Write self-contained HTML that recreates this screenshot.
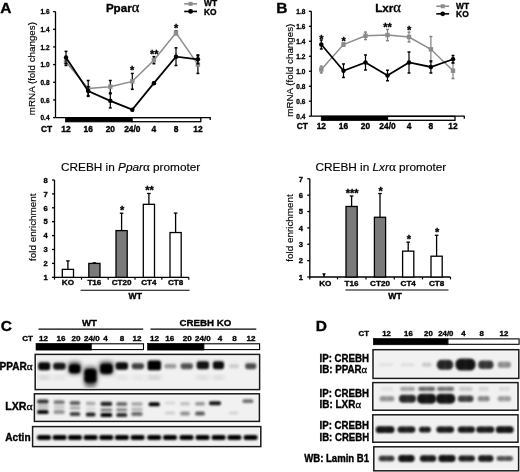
<!DOCTYPE html>
<html><head><meta charset="utf-8"><style>
html,body{margin:0;padding:0;background:#fff;width:520px;height:472px;overflow:hidden;}
svg{display:block;font-family:'Liberation Sans', Arial, sans-serif;}
</style></head><body>
<svg width="520" height="472" viewBox="0 0 520 472">
<defs>
<filter id="b1" x="-50%" y="-50%" width="200%" height="200%"><feGaussianBlur stdDeviation="1.2 1.0"/></filter>
<filter id="b2" x="-50%" y="-50%" width="200%" height="200%"><feGaussianBlur stdDeviation="2"/></filter>
<filter id="b3" x="-50%" y="-50%" width="200%" height="200%"><feGaussianBlur stdDeviation="1.3 1.0"/></filter>
</defs>
<text x="0.30" y="13.00" font-size="15.5" text-anchor="start" style="font-weight:bold;" fill="#000" stroke="#000" stroke-width="0.35" >A</text>
<text x="276.20" y="13.00" font-size="15.5" text-anchor="start" style="font-weight:bold;" fill="#000" stroke="#000" stroke-width="0.35" >B</text>
<text x="0.80" y="331.00" font-size="15.5" text-anchor="start" style="font-weight:bold;" fill="#000" stroke="#000" stroke-width="0.35" >C</text>
<text x="315.80" y="331.00" font-size="15.5" text-anchor="start" style="font-weight:bold;" fill="#000" stroke="#000" stroke-width="0.35" >D</text>
<line x1="55.50" y1="11.60" x2="55.50" y2="117.60" stroke="#000" stroke-width="1.3"/>
<line x1="53.10" y1="117.60" x2="55.50" y2="117.60" stroke="#000" stroke-width="1.3"/>
<text x="49.50" y="120.00" font-size="8.0" text-anchor="end" style="font-weight:bold;" fill="#000" stroke="#000" stroke-width="0.35"  textLength="9.00" lengthAdjust="spacingAndGlyphs">0.4</text>
<line x1="53.10" y1="99.93" x2="55.50" y2="99.93" stroke="#000" stroke-width="1.3"/>
<text x="49.50" y="103.00" font-size="8.0" text-anchor="end" style="font-weight:bold;" fill="#000" stroke="#000" stroke-width="0.35"  textLength="9.00" lengthAdjust="spacingAndGlyphs">0.6</text>
<line x1="53.10" y1="82.27" x2="55.50" y2="82.27" stroke="#000" stroke-width="1.3"/>
<text x="49.50" y="85.00" font-size="8.0" text-anchor="end" style="font-weight:bold;" fill="#000" stroke="#000" stroke-width="0.35"  textLength="9.00" lengthAdjust="spacingAndGlyphs">0.8</text>
<line x1="53.10" y1="64.60" x2="55.50" y2="64.60" stroke="#000" stroke-width="1.3"/>
<text x="49.50" y="67.00" font-size="8.0" text-anchor="end" style="font-weight:bold;" fill="#000" stroke="#000" stroke-width="0.35"  textLength="9.00" lengthAdjust="spacingAndGlyphs">1.0</text>
<line x1="53.10" y1="46.93" x2="55.50" y2="46.93" stroke="#000" stroke-width="1.3"/>
<text x="49.50" y="50.00" font-size="8.0" text-anchor="end" style="font-weight:bold;" fill="#000" stroke="#000" stroke-width="0.35"  textLength="9.00" lengthAdjust="spacingAndGlyphs">1.2</text>
<line x1="53.10" y1="29.27" x2="55.50" y2="29.27" stroke="#000" stroke-width="1.3"/>
<text x="49.50" y="32.00" font-size="8.0" text-anchor="end" style="font-weight:bold;" fill="#000" stroke="#000" stroke-width="0.35"  textLength="9.00" lengthAdjust="spacingAndGlyphs">1.4</text>
<line x1="53.10" y1="11.60" x2="55.50" y2="11.60" stroke="#000" stroke-width="1.3"/>
<text x="49.50" y="14.00" font-size="8.0" text-anchor="end" style="font-weight:bold;" fill="#000" stroke="#000" stroke-width="0.35"  textLength="9.00" lengthAdjust="spacingAndGlyphs">1.6</text>
<line x1="55.50" y1="117.60" x2="210.20" y2="117.60" stroke="#000" stroke-width="1.3"/>
<line x1="210.20" y1="117.10" x2="210.20" y2="120.10" stroke="#000" stroke-width="1.3"/>
<rect x="65.60" y="117.60" width="66.50" height="4.30" fill="#000" stroke="#000" stroke-width="0.8" />
<rect x="132.10" y="117.80" width="68.70" height="3.90" fill="#fff" stroke="#000" stroke-width="1.3" />
<text x="41.00" y="132.00" font-size="8.4" text-anchor="start" style="font-weight:bold;" fill="#000" stroke="#000" stroke-width="0.35" >CT</text>
<text x="66.00" y="132.00" font-size="8.4" text-anchor="middle" style="font-weight:bold;" fill="#000" stroke="#000" stroke-width="0.35" >12</text>
<text x="88.20" y="132.00" font-size="8.4" text-anchor="middle" style="font-weight:bold;" fill="#000" stroke="#000" stroke-width="0.35" >16</text>
<text x="110.30" y="132.00" font-size="8.4" text-anchor="middle" style="font-weight:bold;" fill="#000" stroke="#000" stroke-width="0.35" >20</text>
<text x="132.30" y="132.00" font-size="8.4" text-anchor="middle" style="font-weight:bold;" fill="#000" stroke="#000" stroke-width="0.35" >24/0</text>
<text x="153.90" y="132.00" font-size="8.4" text-anchor="middle" style="font-weight:bold;" fill="#000" stroke="#000" stroke-width="0.35" >4</text>
<text x="176.00" y="132.00" font-size="8.4" text-anchor="middle" style="font-weight:bold;" fill="#000" stroke="#000" stroke-width="0.35" >8</text>
<text x="197.90" y="132.00" font-size="8.4" text-anchor="middle" style="font-weight:bold;" fill="#000" stroke="#000" stroke-width="0.35" >12</text>
<polyline points="66.00,61.95 88.20,88.45 110.30,86.68 132.30,81.38 153.90,60.18 176.00,32.80 197.90,64.60" fill="none" stroke="#8c8c8c" stroke-width="1.45"/>
<line x1="66.00" y1="58.42" x2="66.00" y2="65.48" stroke="#000" stroke-width="1.2"/>
<line x1="64.55" y1="58.42" x2="67.45" y2="58.42" stroke="#000" stroke-width="1.5"/>
<line x1="64.55" y1="65.48" x2="67.45" y2="65.48" stroke="#000" stroke-width="1.5"/>
<line x1="88.20" y1="80.50" x2="88.20" y2="96.40" stroke="#000" stroke-width="1.2"/>
<line x1="86.75" y1="80.50" x2="89.65" y2="80.50" stroke="#000" stroke-width="1.5"/>
<line x1="86.75" y1="96.40" x2="89.65" y2="96.40" stroke="#000" stroke-width="1.5"/>
<line x1="110.30" y1="80.50" x2="110.30" y2="92.87" stroke="#000" stroke-width="1.2"/>
<line x1="108.85" y1="80.50" x2="111.75" y2="80.50" stroke="#000" stroke-width="1.5"/>
<line x1="108.85" y1="92.87" x2="111.75" y2="92.87" stroke="#000" stroke-width="1.5"/>
<line x1="132.30" y1="73.43" x2="132.30" y2="89.33" stroke="#000" stroke-width="1.2"/>
<line x1="130.85" y1="73.43" x2="133.75" y2="73.43" stroke="#000" stroke-width="1.5"/>
<line x1="130.85" y1="89.33" x2="133.75" y2="89.33" stroke="#000" stroke-width="1.5"/>
<line x1="153.90" y1="56.65" x2="153.90" y2="63.72" stroke="#000" stroke-width="1.2"/>
<line x1="152.45" y1="56.65" x2="155.35" y2="56.65" stroke="#000" stroke-width="1.5"/>
<line x1="152.45" y1="63.72" x2="155.35" y2="63.72" stroke="#000" stroke-width="1.5"/>
<line x1="176.00" y1="31.03" x2="176.00" y2="34.57" stroke="#000" stroke-width="1.2"/>
<line x1="174.55" y1="31.03" x2="177.45" y2="31.03" stroke="#000" stroke-width="1.5"/>
<line x1="174.55" y1="34.57" x2="177.45" y2="34.57" stroke="#000" stroke-width="1.5"/>
<line x1="197.90" y1="55.77" x2="197.90" y2="73.43" stroke="#000" stroke-width="1.2"/>
<line x1="196.45" y1="55.77" x2="199.35" y2="55.77" stroke="#000" stroke-width="1.5"/>
<line x1="196.45" y1="73.43" x2="199.35" y2="73.43" stroke="#000" stroke-width="1.5"/>
<rect x="63.80" y="59.75" width="4.40" height="4.40" fill="#8c8c8c" stroke="none" stroke-width="0" />
<rect x="86.00" y="86.25" width="4.40" height="4.40" fill="#8c8c8c" stroke="none" stroke-width="0" />
<rect x="108.10" y="84.48" width="4.40" height="4.40" fill="#8c8c8c" stroke="none" stroke-width="0" />
<rect x="130.10" y="79.18" width="4.40" height="4.40" fill="#8c8c8c" stroke="none" stroke-width="0" />
<rect x="151.70" y="57.98" width="4.40" height="4.40" fill="#8c8c8c" stroke="none" stroke-width="0" />
<rect x="173.80" y="30.60" width="4.40" height="4.40" fill="#8c8c8c" stroke="none" stroke-width="0" />
<rect x="195.70" y="62.40" width="4.40" height="4.40" fill="#8c8c8c" stroke="none" stroke-width="0" />
<polyline points="66.00,57.53 88.20,91.10 110.30,100.82 132.30,109.65 153.90,83.15 176.00,56.65 197.90,59.30" fill="none" stroke="#000" stroke-width="1.75"/>
<line x1="66.00" y1="51.35" x2="66.00" y2="63.72" stroke="#000" stroke-width="1.2"/>
<line x1="64.55" y1="51.35" x2="67.45" y2="51.35" stroke="#000" stroke-width="1.5"/>
<line x1="64.55" y1="63.72" x2="67.45" y2="63.72" stroke="#000" stroke-width="1.5"/>
<line x1="88.20" y1="86.68" x2="88.20" y2="95.52" stroke="#000" stroke-width="1.2"/>
<line x1="86.75" y1="86.68" x2="89.65" y2="86.68" stroke="#000" stroke-width="1.5"/>
<line x1="86.75" y1="95.52" x2="89.65" y2="95.52" stroke="#000" stroke-width="1.5"/>
<line x1="110.30" y1="93.75" x2="110.30" y2="107.88" stroke="#000" stroke-width="1.2"/>
<line x1="108.85" y1="93.75" x2="111.75" y2="93.75" stroke="#000" stroke-width="1.5"/>
<line x1="108.85" y1="107.88" x2="111.75" y2="107.88" stroke="#000" stroke-width="1.5"/>
<line x1="132.30" y1="108.77" x2="132.30" y2="110.53" stroke="#000" stroke-width="1.2"/>
<line x1="130.85" y1="108.77" x2="133.75" y2="108.77" stroke="#000" stroke-width="1.5"/>
<line x1="130.85" y1="110.53" x2="133.75" y2="110.53" stroke="#000" stroke-width="1.5"/>
<line x1="153.90" y1="82.27" x2="153.90" y2="84.03" stroke="#000" stroke-width="1.2"/>
<line x1="152.45" y1="82.27" x2="155.35" y2="82.27" stroke="#000" stroke-width="1.5"/>
<line x1="152.45" y1="84.03" x2="155.35" y2="84.03" stroke="#000" stroke-width="1.5"/>
<line x1="176.00" y1="47.82" x2="176.00" y2="65.48" stroke="#000" stroke-width="1.2"/>
<line x1="174.55" y1="47.82" x2="177.45" y2="47.82" stroke="#000" stroke-width="1.5"/>
<line x1="174.55" y1="65.48" x2="177.45" y2="65.48" stroke="#000" stroke-width="1.5"/>
<line x1="197.90" y1="54.88" x2="197.90" y2="63.72" stroke="#000" stroke-width="1.2"/>
<line x1="196.45" y1="54.88" x2="199.35" y2="54.88" stroke="#000" stroke-width="1.5"/>
<line x1="196.45" y1="63.72" x2="199.35" y2="63.72" stroke="#000" stroke-width="1.5"/>
<circle cx="66.00" cy="57.53" r="2.25" fill="#000"/>
<circle cx="88.20" cy="91.10" r="2.25" fill="#000"/>
<circle cx="110.30" cy="100.82" r="2.25" fill="#000"/>
<circle cx="132.30" cy="109.65" r="2.25" fill="#000"/>
<circle cx="153.90" cy="83.15" r="2.25" fill="#000"/>
<circle cx="176.00" cy="56.65" r="2.25" fill="#000"/>
<circle cx="197.90" cy="59.30" r="2.25" fill="#000"/>
<text x="132.20" y="74.00" font-size="11.0" text-anchor="middle" style="font-weight:bold;" fill="#000" stroke="#000" stroke-width="0.35" >*</text>
<text x="154.20" y="58.00" font-size="11.0" text-anchor="middle" style="font-weight:bold;" fill="#000" stroke="#000" stroke-width="0.35" >**</text>
<text x="176.10" y="32.00" font-size="11.0" text-anchor="middle" style="font-weight:bold;" fill="#000" stroke="#000" stroke-width="0.35" >*</text>
<text x="105.90" y="12.00" font-size="11.6" text-anchor="start" style="font-weight:bold;" fill="#000" stroke="#000" stroke-width="0.35" >Ppar<tspan font-family="Liberation Serif" font-weight="normal" font-size="14.5">&#945;</tspan></text>
<line x1="184.20" y1="3.85" x2="197.00" y2="3.85" stroke="#8c8c8c" stroke-width="1.6"/>
<rect x="188.60" y="1.85" width="4.00" height="4.00" fill="#8c8c8c" stroke="none" stroke-width="0" />
<text x="204.00" y="6.00" font-size="8.4" text-anchor="start" style="font-weight:bold;" fill="#000" stroke="#000" stroke-width="0.35" >WT</text>
<line x1="184.20" y1="11.45" x2="197.00" y2="11.45" stroke="#000" stroke-width="1.6"/>
<circle cx="190.60" cy="11.45" r="2.4" fill="#000"/>
<text x="204.00" y="15.00" font-size="8.4" text-anchor="start" style="font-weight:bold;" fill="#000" stroke="#000" stroke-width="0.35" >KO</text>
<line x1="311.30" y1="11.30" x2="311.30" y2="116.20" stroke="#000" stroke-width="1.3"/>
<line x1="308.90" y1="116.20" x2="311.30" y2="116.20" stroke="#000" stroke-width="1.3"/>
<text x="305.30" y="119.00" font-size="8.0" text-anchor="end" style="font-weight:bold;" fill="#000" stroke="#000" stroke-width="0.35"  textLength="9.00" lengthAdjust="spacingAndGlyphs">0.4</text>
<line x1="308.90" y1="101.21" x2="311.30" y2="101.21" stroke="#000" stroke-width="1.3"/>
<text x="305.30" y="104.00" font-size="8.0" text-anchor="end" style="font-weight:bold;" fill="#000" stroke="#000" stroke-width="0.35"  textLength="9.00" lengthAdjust="spacingAndGlyphs">0.6</text>
<line x1="308.90" y1="86.23" x2="311.30" y2="86.23" stroke="#000" stroke-width="1.3"/>
<text x="305.30" y="89.00" font-size="8.0" text-anchor="end" style="font-weight:bold;" fill="#000" stroke="#000" stroke-width="0.35"  textLength="9.00" lengthAdjust="spacingAndGlyphs">0.8</text>
<line x1="308.90" y1="71.24" x2="311.30" y2="71.24" stroke="#000" stroke-width="1.3"/>
<text x="305.30" y="74.00" font-size="8.0" text-anchor="end" style="font-weight:bold;" fill="#000" stroke="#000" stroke-width="0.35"  textLength="9.00" lengthAdjust="spacingAndGlyphs">1.0</text>
<line x1="308.90" y1="56.26" x2="311.30" y2="56.26" stroke="#000" stroke-width="1.3"/>
<text x="305.30" y="59.00" font-size="8.0" text-anchor="end" style="font-weight:bold;" fill="#000" stroke="#000" stroke-width="0.35"  textLength="9.00" lengthAdjust="spacingAndGlyphs">1.2</text>
<line x1="308.90" y1="41.27" x2="311.30" y2="41.27" stroke="#000" stroke-width="1.3"/>
<text x="305.30" y="44.00" font-size="8.0" text-anchor="end" style="font-weight:bold;" fill="#000" stroke="#000" stroke-width="0.35"  textLength="9.00" lengthAdjust="spacingAndGlyphs">1.4</text>
<line x1="308.90" y1="26.29" x2="311.30" y2="26.29" stroke="#000" stroke-width="1.3"/>
<text x="305.30" y="29.00" font-size="8.0" text-anchor="end" style="font-weight:bold;" fill="#000" stroke="#000" stroke-width="0.35"  textLength="9.00" lengthAdjust="spacingAndGlyphs">1.6</text>
<line x1="308.90" y1="11.30" x2="311.30" y2="11.30" stroke="#000" stroke-width="1.3"/>
<text x="305.30" y="14.00" font-size="8.0" text-anchor="end" style="font-weight:bold;" fill="#000" stroke="#000" stroke-width="0.35"  textLength="9.00" lengthAdjust="spacingAndGlyphs">1.8</text>
<line x1="311.30" y1="116.20" x2="464.30" y2="116.20" stroke="#000" stroke-width="1.3"/>
<line x1="464.30" y1="115.70" x2="464.30" y2="118.70" stroke="#000" stroke-width="1.3"/>
<rect x="321.30" y="116.20" width="66.20" height="4.30" fill="#000" stroke="#000" stroke-width="0.8" />
<rect x="387.50" y="116.40" width="67.50" height="3.90" fill="#fff" stroke="#000" stroke-width="1.3" />
<text x="296.80" y="129.00" font-size="8.4" text-anchor="start" style="font-weight:bold;" fill="#000" stroke="#000" stroke-width="0.35" >CT</text>
<text x="321.30" y="129.00" font-size="8.4" text-anchor="middle" style="font-weight:bold;" fill="#000" stroke="#000" stroke-width="0.35" >12</text>
<text x="343.50" y="129.00" font-size="8.4" text-anchor="middle" style="font-weight:bold;" fill="#000" stroke="#000" stroke-width="0.35" >16</text>
<text x="365.50" y="129.00" font-size="8.4" text-anchor="middle" style="font-weight:bold;" fill="#000" stroke="#000" stroke-width="0.35" >20</text>
<text x="387.50" y="129.00" font-size="8.4" text-anchor="middle" style="font-weight:bold;" fill="#000" stroke="#000" stroke-width="0.35" >24/0</text>
<text x="409.00" y="129.00" font-size="8.4" text-anchor="middle" style="font-weight:bold;" fill="#000" stroke="#000" stroke-width="0.35" >4</text>
<text x="430.90" y="129.00" font-size="8.4" text-anchor="middle" style="font-weight:bold;" fill="#000" stroke="#000" stroke-width="0.35" >8</text>
<text x="453.00" y="129.00" font-size="8.4" text-anchor="middle" style="font-weight:bold;" fill="#000" stroke="#000" stroke-width="0.35" >12</text>
<polyline points="321.30,69.52 343.50,44.49 365.50,35.80 387.50,35.05 409.00,37.00 430.90,49.29 453.00,70.72" fill="none" stroke="#8c8c8c" stroke-width="1.45"/>
<line x1="321.30" y1="66.15" x2="321.30" y2="72.89" stroke="#808080" stroke-width="1.2"/>
<line x1="319.85" y1="66.15" x2="322.75" y2="66.15" stroke="#808080" stroke-width="1.5"/>
<line x1="319.85" y1="72.89" x2="322.75" y2="72.89" stroke="#808080" stroke-width="1.5"/>
<line x1="343.50" y1="42.99" x2="343.50" y2="45.99" stroke="#808080" stroke-width="1.2"/>
<line x1="342.05" y1="42.99" x2="344.95" y2="42.99" stroke="#808080" stroke-width="1.5"/>
<line x1="342.05" y1="45.99" x2="344.95" y2="45.99" stroke="#808080" stroke-width="1.5"/>
<line x1="365.50" y1="32.06" x2="365.50" y2="39.55" stroke="#808080" stroke-width="1.2"/>
<line x1="364.05" y1="32.06" x2="366.95" y2="32.06" stroke="#808080" stroke-width="1.5"/>
<line x1="364.05" y1="39.55" x2="366.95" y2="39.55" stroke="#808080" stroke-width="1.5"/>
<line x1="387.50" y1="29.43" x2="387.50" y2="40.67" stroke="#808080" stroke-width="1.2"/>
<line x1="386.05" y1="29.43" x2="388.95" y2="29.43" stroke="#808080" stroke-width="1.5"/>
<line x1="386.05" y1="40.67" x2="388.95" y2="40.67" stroke="#808080" stroke-width="1.5"/>
<line x1="409.00" y1="32.13" x2="409.00" y2="41.87" stroke="#808080" stroke-width="1.2"/>
<line x1="407.55" y1="32.13" x2="410.45" y2="32.13" stroke="#808080" stroke-width="1.5"/>
<line x1="407.55" y1="41.87" x2="410.45" y2="41.87" stroke="#808080" stroke-width="1.5"/>
<line x1="430.90" y1="36.55" x2="430.90" y2="62.03" stroke="#808080" stroke-width="1.2"/>
<line x1="429.45" y1="36.55" x2="432.35" y2="36.55" stroke="#808080" stroke-width="1.5"/>
<line x1="429.45" y1="62.03" x2="432.35" y2="62.03" stroke="#808080" stroke-width="1.5"/>
<line x1="453.00" y1="62.85" x2="453.00" y2="78.59" stroke="#808080" stroke-width="1.2"/>
<line x1="451.55" y1="62.85" x2="454.45" y2="62.85" stroke="#808080" stroke-width="1.5"/>
<line x1="451.55" y1="78.59" x2="454.45" y2="78.59" stroke="#808080" stroke-width="1.5"/>
<rect x="319.10" y="67.32" width="4.40" height="4.40" fill="#8c8c8c" stroke="none" stroke-width="0" />
<rect x="341.30" y="42.29" width="4.40" height="4.40" fill="#8c8c8c" stroke="none" stroke-width="0" />
<rect x="363.30" y="33.60" width="4.40" height="4.40" fill="#8c8c8c" stroke="none" stroke-width="0" />
<rect x="385.30" y="32.85" width="4.40" height="4.40" fill="#8c8c8c" stroke="none" stroke-width="0" />
<rect x="406.80" y="34.80" width="4.40" height="4.40" fill="#8c8c8c" stroke="none" stroke-width="0" />
<rect x="428.70" y="47.09" width="4.40" height="4.40" fill="#8c8c8c" stroke="none" stroke-width="0" />
<rect x="450.80" y="68.52" width="4.40" height="4.40" fill="#8c8c8c" stroke="none" stroke-width="0" />
<polyline points="321.30,44.49 343.50,70.72 365.50,62.48 387.50,75.51 409.00,62.48 430.90,66.97 453.00,59.25" fill="none" stroke="#000" stroke-width="1.75"/>
<line x1="321.30" y1="40.00" x2="321.30" y2="48.99" stroke="#000" stroke-width="1.2"/>
<line x1="319.85" y1="40.00" x2="322.75" y2="40.00" stroke="#000" stroke-width="1.5"/>
<line x1="319.85" y1="48.99" x2="322.75" y2="48.99" stroke="#000" stroke-width="1.5"/>
<line x1="343.50" y1="63.97" x2="343.50" y2="77.46" stroke="#000" stroke-width="1.2"/>
<line x1="342.05" y1="63.97" x2="344.95" y2="63.97" stroke="#000" stroke-width="1.5"/>
<line x1="342.05" y1="77.46" x2="344.95" y2="77.46" stroke="#000" stroke-width="1.5"/>
<line x1="365.50" y1="54.98" x2="365.50" y2="69.97" stroke="#000" stroke-width="1.2"/>
<line x1="364.05" y1="54.98" x2="366.95" y2="54.98" stroke="#000" stroke-width="1.5"/>
<line x1="364.05" y1="69.97" x2="366.95" y2="69.97" stroke="#000" stroke-width="1.5"/>
<line x1="387.50" y1="70.27" x2="387.50" y2="80.76" stroke="#000" stroke-width="1.2"/>
<line x1="386.05" y1="70.27" x2="388.95" y2="70.27" stroke="#000" stroke-width="1.5"/>
<line x1="386.05" y1="80.76" x2="388.95" y2="80.76" stroke="#000" stroke-width="1.5"/>
<line x1="409.00" y1="51.99" x2="409.00" y2="72.97" stroke="#000" stroke-width="1.2"/>
<line x1="407.55" y1="51.99" x2="410.45" y2="51.99" stroke="#000" stroke-width="1.5"/>
<line x1="407.55" y1="72.97" x2="410.45" y2="72.97" stroke="#000" stroke-width="1.5"/>
<line x1="430.90" y1="60.98" x2="430.90" y2="72.97" stroke="#000" stroke-width="1.2"/>
<line x1="429.45" y1="60.98" x2="432.35" y2="60.98" stroke="#000" stroke-width="1.5"/>
<line x1="429.45" y1="72.97" x2="432.35" y2="72.97" stroke="#000" stroke-width="1.5"/>
<line x1="453.00" y1="55.51" x2="453.00" y2="63.00" stroke="#000" stroke-width="1.2"/>
<line x1="451.55" y1="55.51" x2="454.45" y2="55.51" stroke="#000" stroke-width="1.5"/>
<line x1="451.55" y1="63.00" x2="454.45" y2="63.00" stroke="#000" stroke-width="1.5"/>
<circle cx="321.30" cy="44.49" r="2.25" fill="#000"/>
<circle cx="343.50" cy="70.72" r="2.25" fill="#000"/>
<circle cx="365.50" cy="62.48" r="2.25" fill="#000"/>
<circle cx="387.50" cy="75.51" r="2.25" fill="#000"/>
<circle cx="409.00" cy="62.48" r="2.25" fill="#000"/>
<circle cx="430.90" cy="66.97" r="2.25" fill="#000"/>
<circle cx="453.00" cy="59.25" r="2.25" fill="#000"/>
<text x="321.40" y="43.00" font-size="11.0" text-anchor="middle" style="font-weight:bold;" fill="#000" stroke="#000" stroke-width="0.35" >*</text>
<text x="343.60" y="45.00" font-size="11.0" text-anchor="middle" style="font-weight:bold;" fill="#000" stroke="#000" stroke-width="0.35" >*</text>
<text x="387.60" y="31.00" font-size="11.0" text-anchor="middle" style="font-weight:bold;" fill="#000" stroke="#000" stroke-width="0.35" >**</text>
<text x="409.10" y="34.00" font-size="11.0" text-anchor="middle" style="font-weight:bold;" fill="#000" stroke="#000" stroke-width="0.35" >*</text>
<text x="375.20" y="12.00" font-size="11.6" text-anchor="start" style="font-weight:bold;" fill="#000" stroke="#000" stroke-width="0.35" >Lxr<tspan font-family="Liberation Serif" font-weight="normal" font-size="14.5">&#945;</tspan></text>
<line x1="436.30" y1="6.25" x2="449.10" y2="6.25" stroke="#8c8c8c" stroke-width="1.6"/>
<rect x="440.70" y="4.25" width="4.00" height="4.00" fill="#8c8c8c" stroke="none" stroke-width="0" />
<text x="456.10" y="9.00" font-size="8.4" text-anchor="start" style="font-weight:bold;" fill="#000" stroke="#000" stroke-width="0.35" >WT</text>
<line x1="436.30" y1="13.85" x2="449.10" y2="13.85" stroke="#000" stroke-width="1.6"/>
<circle cx="442.70" cy="13.85" r="2.4" fill="#000"/>
<text x="456.10" y="17.00" font-size="8.4" text-anchor="start" style="font-weight:bold;" fill="#000" stroke="#000" stroke-width="0.35" >KO</text>
<line x1="54.50" y1="180.00" x2="54.50" y2="277.30" stroke="#000" stroke-width="1.3"/>
<line x1="52.00" y1="277.30" x2="54.50" y2="277.30" stroke="#000" stroke-width="1.3"/>
<text x="47.70" y="280.00" font-size="7.6" text-anchor="end" style="font-weight:bold;" fill="#000" stroke="#000" stroke-width="0.35" >1</text>
<line x1="52.00" y1="263.40" x2="54.50" y2="263.40" stroke="#000" stroke-width="1.3"/>
<text x="47.70" y="266.00" font-size="7.6" text-anchor="end" style="font-weight:bold;" fill="#000" stroke="#000" stroke-width="0.35" >2</text>
<line x1="52.00" y1="249.50" x2="54.50" y2="249.50" stroke="#000" stroke-width="1.3"/>
<text x="47.70" y="252.00" font-size="7.6" text-anchor="end" style="font-weight:bold;" fill="#000" stroke="#000" stroke-width="0.35" >3</text>
<line x1="52.00" y1="235.60" x2="54.50" y2="235.60" stroke="#000" stroke-width="1.3"/>
<text x="47.70" y="238.00" font-size="7.6" text-anchor="end" style="font-weight:bold;" fill="#000" stroke="#000" stroke-width="0.35" >4</text>
<line x1="52.00" y1="221.70" x2="54.50" y2="221.70" stroke="#000" stroke-width="1.3"/>
<text x="47.70" y="224.00" font-size="7.6" text-anchor="end" style="font-weight:bold;" fill="#000" stroke="#000" stroke-width="0.35" >5</text>
<line x1="52.00" y1="207.80" x2="54.50" y2="207.80" stroke="#000" stroke-width="1.3"/>
<text x="47.70" y="211.00" font-size="7.6" text-anchor="end" style="font-weight:bold;" fill="#000" stroke="#000" stroke-width="0.35" >6</text>
<line x1="52.00" y1="193.90" x2="54.50" y2="193.90" stroke="#000" stroke-width="1.3"/>
<text x="47.70" y="197.00" font-size="7.6" text-anchor="end" style="font-weight:bold;" fill="#000" stroke="#000" stroke-width="0.35" >7</text>
<line x1="52.00" y1="180.00" x2="54.50" y2="180.00" stroke="#000" stroke-width="1.3"/>
<text x="47.70" y="183.00" font-size="7.6" text-anchor="end" style="font-weight:bold;" fill="#000" stroke="#000" stroke-width="0.35" >8</text>
<line x1="54.50" y1="277.30" x2="188.80" y2="277.30" stroke="#000" stroke-width="1.3"/>
<line x1="54.50" y1="277.30" x2="54.50" y2="279.70" stroke="#000" stroke-width="1.2"/>
<line x1="81.50" y1="277.30" x2="81.50" y2="279.70" stroke="#000" stroke-width="1.2"/>
<line x1="108.20" y1="277.30" x2="108.20" y2="279.70" stroke="#000" stroke-width="1.2"/>
<line x1="135.00" y1="277.30" x2="135.00" y2="279.70" stroke="#000" stroke-width="1.2"/>
<line x1="161.80" y1="277.30" x2="161.80" y2="279.70" stroke="#000" stroke-width="1.2"/>
<line x1="188.80" y1="277.30" x2="188.80" y2="279.70" stroke="#000" stroke-width="1.2"/>
<line x1="67.90" y1="260.90" x2="67.90" y2="269.38" stroke="#000" stroke-width="1.3"/>
<line x1="66.10" y1="260.90" x2="69.70" y2="260.90" stroke="#000" stroke-width="1.3"/>
<rect x="62.30" y="269.38" width="11.20" height="7.92" fill="#fff" stroke="#000" stroke-width="1.3" />
<text x="67.90" y="285.00" font-size="8.1" text-anchor="middle" style="font-weight:bold;" fill="#000" stroke="#000" stroke-width="0.35" >KO</text>
<line x1="94.40" y1="262.84" x2="94.40" y2="263.40" stroke="#000" stroke-width="1.3"/>
<line x1="92.60" y1="262.84" x2="96.20" y2="262.84" stroke="#000" stroke-width="1.3"/>
<rect x="88.80" y="263.40" width="11.20" height="13.90" fill="#7a7a7a" stroke="#000" stroke-width="1.3" />
<text x="94.40" y="285.00" font-size="8.1" text-anchor="middle" style="font-weight:bold;" fill="#000" stroke="#000" stroke-width="0.35" >T16</text>
<line x1="121.60" y1="213.22" x2="121.60" y2="230.60" stroke="#000" stroke-width="1.3"/>
<line x1="119.80" y1="213.22" x2="123.40" y2="213.22" stroke="#000" stroke-width="1.3"/>
<rect x="116.00" y="230.60" width="11.20" height="46.70" fill="#7a7a7a" stroke="#000" stroke-width="1.3" />
<text x="122.20" y="214.00" font-size="11.0" text-anchor="middle" style="font-weight:bold;" fill="#000" stroke="#000" stroke-width="0.35" >*</text>
<text x="121.60" y="285.00" font-size="8.1" text-anchor="middle" style="font-weight:bold;" fill="#000" stroke="#000" stroke-width="0.35" >CT20</text>
<line x1="148.90" y1="193.48" x2="148.90" y2="204.32" stroke="#000" stroke-width="1.3"/>
<line x1="147.10" y1="193.48" x2="150.70" y2="193.48" stroke="#000" stroke-width="1.3"/>
<rect x="143.30" y="204.32" width="11.20" height="72.98" fill="#fff" stroke="#000" stroke-width="1.3" />
<text x="149.50" y="194.00" font-size="11.0" text-anchor="middle" style="font-weight:bold;" fill="#000" stroke="#000" stroke-width="0.35" >**</text>
<text x="148.90" y="285.00" font-size="8.1" text-anchor="middle" style="font-weight:bold;" fill="#000" stroke="#000" stroke-width="0.35" >CT4</text>
<line x1="175.60" y1="213.08" x2="175.60" y2="232.54" stroke="#000" stroke-width="1.3"/>
<line x1="173.80" y1="213.08" x2="177.40" y2="213.08" stroke="#000" stroke-width="1.3"/>
<rect x="170.00" y="232.54" width="11.20" height="44.76" fill="#fff" stroke="#000" stroke-width="1.3" />
<text x="175.60" y="285.00" font-size="8.1" text-anchor="middle" style="font-weight:bold;" fill="#000" stroke="#000" stroke-width="0.35" >CT8</text>
<text x="61.0" y="171.0" font-size="11.8" fill="#000" stroke="#000" stroke-width="0.15">CREBH in <tspan font-style="italic">Ppar</tspan><tspan font-family="Liberation Serif" font-size="13">&#945;</tspan> promoter</text>
<line x1="80.60" y1="290.20" x2="189.60" y2="290.20" stroke="#000" stroke-width="1.1"/>
<text x="135.30" y="299.00" font-size="8.6" text-anchor="middle" style="font-weight:bold;" fill="#000" stroke="#000" stroke-width="0.35" >WT</text>
<text transform="translate(36.4,227.2) rotate(-90)" font-size="9.9" text-anchor="middle" fill="#000" stroke="#000" stroke-width="0.15">fold enrichment</text>
<line x1="309.80" y1="178.80" x2="309.80" y2="277.00" stroke="#000" stroke-width="1.3"/>
<line x1="307.30" y1="277.00" x2="309.80" y2="277.00" stroke="#000" stroke-width="1.3"/>
<text x="303.00" y="280.00" font-size="7.6" text-anchor="end" style="font-weight:bold;" fill="#000" stroke="#000" stroke-width="0.35" >1</text>
<line x1="307.30" y1="260.63" x2="309.80" y2="260.63" stroke="#000" stroke-width="1.3"/>
<text x="303.00" y="263.00" font-size="7.6" text-anchor="end" style="font-weight:bold;" fill="#000" stroke="#000" stroke-width="0.35" >2</text>
<line x1="307.30" y1="244.27" x2="309.80" y2="244.27" stroke="#000" stroke-width="1.3"/>
<text x="303.00" y="247.00" font-size="7.6" text-anchor="end" style="font-weight:bold;" fill="#000" stroke="#000" stroke-width="0.35" >3</text>
<line x1="307.30" y1="227.90" x2="309.80" y2="227.90" stroke="#000" stroke-width="1.3"/>
<text x="303.00" y="231.00" font-size="7.6" text-anchor="end" style="font-weight:bold;" fill="#000" stroke="#000" stroke-width="0.35" >4</text>
<line x1="307.30" y1="211.53" x2="309.80" y2="211.53" stroke="#000" stroke-width="1.3"/>
<text x="303.00" y="214.00" font-size="7.6" text-anchor="end" style="font-weight:bold;" fill="#000" stroke="#000" stroke-width="0.35" >5</text>
<line x1="307.30" y1="195.17" x2="309.80" y2="195.17" stroke="#000" stroke-width="1.3"/>
<text x="303.00" y="198.00" font-size="7.6" text-anchor="end" style="font-weight:bold;" fill="#000" stroke="#000" stroke-width="0.35" >6</text>
<line x1="307.30" y1="178.80" x2="309.80" y2="178.80" stroke="#000" stroke-width="1.3"/>
<text x="303.00" y="182.00" font-size="7.6" text-anchor="end" style="font-weight:bold;" fill="#000" stroke="#000" stroke-width="0.35" >7</text>
<line x1="309.80" y1="277.00" x2="450.50" y2="277.00" stroke="#000" stroke-width="1.3"/>
<line x1="309.80" y1="277.00" x2="309.80" y2="279.40" stroke="#000" stroke-width="1.2"/>
<line x1="337.50" y1="277.00" x2="337.50" y2="279.40" stroke="#000" stroke-width="1.2"/>
<line x1="366.00" y1="277.00" x2="366.00" y2="279.40" stroke="#000" stroke-width="1.2"/>
<line x1="394.30" y1="277.00" x2="394.30" y2="279.40" stroke="#000" stroke-width="1.2"/>
<line x1="422.50" y1="277.00" x2="422.50" y2="279.40" stroke="#000" stroke-width="1.2"/>
<line x1="450.50" y1="277.00" x2="450.50" y2="279.40" stroke="#000" stroke-width="1.2"/>
<text x="325.30" y="286.00" font-size="8.1" text-anchor="middle" style="font-weight:bold;" fill="#000" stroke="#000" stroke-width="0.35" >KO</text>
<line x1="351.60" y1="195.99" x2="351.60" y2="206.46" stroke="#000" stroke-width="1.3"/>
<line x1="349.80" y1="195.99" x2="353.40" y2="195.99" stroke="#000" stroke-width="1.3"/>
<rect x="346.00" y="206.46" width="11.20" height="70.54" fill="#7a7a7a" stroke="#000" stroke-width="1.3" />
<text x="352.20" y="197.00" font-size="11.0" text-anchor="middle" style="font-weight:bold;" fill="#000" stroke="#000" stroke-width="0.35" >***</text>
<text x="351.60" y="286.00" font-size="8.1" text-anchor="middle" style="font-weight:bold;" fill="#000" stroke="#000" stroke-width="0.35" >T16</text>
<line x1="380.00" y1="193.53" x2="380.00" y2="217.26" stroke="#000" stroke-width="1.3"/>
<line x1="378.20" y1="193.53" x2="381.80" y2="193.53" stroke="#000" stroke-width="1.3"/>
<rect x="374.40" y="217.26" width="11.20" height="59.74" fill="#7a7a7a" stroke="#000" stroke-width="1.3" />
<text x="380.60" y="195.00" font-size="11.0" text-anchor="middle" style="font-weight:bold;" fill="#000" stroke="#000" stroke-width="0.35" >*</text>
<text x="380.00" y="286.00" font-size="8.1" text-anchor="middle" style="font-weight:bold;" fill="#000" stroke="#000" stroke-width="0.35" >CT20</text>
<line x1="408.20" y1="242.14" x2="408.20" y2="251.14" stroke="#000" stroke-width="1.3"/>
<line x1="406.40" y1="242.14" x2="410.00" y2="242.14" stroke="#000" stroke-width="1.3"/>
<rect x="402.60" y="251.14" width="11.20" height="25.86" fill="#fff" stroke="#000" stroke-width="1.3" />
<text x="408.80" y="243.00" font-size="11.0" text-anchor="middle" style="font-weight:bold;" fill="#000" stroke="#000" stroke-width="0.35" >*</text>
<text x="408.20" y="286.00" font-size="8.1" text-anchor="middle" style="font-weight:bold;" fill="#000" stroke="#000" stroke-width="0.35" >CT4</text>
<line x1="436.60" y1="235.27" x2="436.60" y2="256.21" stroke="#000" stroke-width="1.3"/>
<line x1="434.80" y1="235.27" x2="438.40" y2="235.27" stroke="#000" stroke-width="1.3"/>
<rect x="431.00" y="256.21" width="11.20" height="20.79" fill="#fff" stroke="#000" stroke-width="1.3" />
<text x="437.20" y="236.00" font-size="11.0" text-anchor="middle" style="font-weight:bold;" fill="#000" stroke="#000" stroke-width="0.35" >*</text>
<text x="436.60" y="286.00" font-size="8.1" text-anchor="middle" style="font-weight:bold;" fill="#000" stroke="#000" stroke-width="0.35" >CT8</text>
<text x="315.5" y="171.0" font-size="11.8" fill="#000" stroke="#000" stroke-width="0.15">CREBH in <tspan font-style="italic">Lxr</tspan><tspan font-family="Liberation Serif" font-size="13">&#945;</tspan> promoter</text>
<line x1="345.40" y1="290.00" x2="448.50" y2="290.00" stroke="#000" stroke-width="1.1"/>
<text x="395.00" y="299.00" font-size="8.6" text-anchor="middle" style="font-weight:bold;" fill="#000" stroke="#000" stroke-width="0.35" >WT</text>
<text transform="translate(292.7,228.0) rotate(-90)" font-size="9.9" text-anchor="middle" fill="#000" stroke="#000" stroke-width="0.15">fold enrichment</text>
<path d="M322.0,273.6 L326.0,273.6 L324.0,276.2 Z" fill="#000"/>
<line x1="324.00" y1="273.00" x2="324.00" y2="277.00" stroke="#000" stroke-width="1.1"/>
<text transform="translate(34.6,68.6) rotate(-90)" font-size="9.8" text-anchor="middle" fill="#000" stroke="#000" stroke-width="0.15">mRNA (fold changes)</text>
<text transform="translate(293.4,70.2) rotate(-90)" font-size="9.8" text-anchor="middle" fill="#000" stroke="#000" stroke-width="0.15">mRNA (fold changes)</text>
<text x="89.40" y="326.00" font-size="9.6" text-anchor="middle" style="font-weight:bold;" fill="#000" stroke="#000" stroke-width="0.35"  textLength="15.00" lengthAdjust="spacingAndGlyphs">WT</text>
<text x="205.40" y="326.00" font-size="9.8" text-anchor="middle" style="font-weight:bold;" fill="#000" stroke="#000" stroke-width="0.35"  textLength="51.80" lengthAdjust="spacingAndGlyphs">CREBH KO</text>
<line x1="38.50" y1="329.20" x2="143.20" y2="329.20" stroke="#000" stroke-width="1.3"/>
<line x1="150.50" y1="329.20" x2="256.30" y2="329.20" stroke="#000" stroke-width="1.3"/>
<text x="22.30" y="341.00" font-size="8.0" text-anchor="start" style="font-weight:bold;" fill="#000" stroke="#000" stroke-width="0.35" >CT</text>
<text x="43.60" y="341.00" font-size="8.1" text-anchor="middle" style="font-weight:bold;" fill="#000" stroke="#000" stroke-width="0.35" >12</text>
<text x="60.90" y="341.00" font-size="8.1" text-anchor="middle" style="font-weight:bold;" fill="#000" stroke="#000" stroke-width="0.35" >16</text>
<text x="76.00" y="341.00" font-size="8.1" text-anchor="middle" style="font-weight:bold;" fill="#000" stroke="#000" stroke-width="0.35" >20</text>
<text x="91.90" y="341.00" font-size="8.1" text-anchor="middle" style="font-weight:bold;" fill="#000" stroke="#000" stroke-width="0.35"  textLength="15.60" lengthAdjust="spacingAndGlyphs">24/0</text>
<text x="105.60" y="341.00" font-size="8.1" text-anchor="middle" style="font-weight:bold;" fill="#000" stroke="#000" stroke-width="0.35" >4</text>
<text x="121.90" y="341.00" font-size="8.1" text-anchor="middle" style="font-weight:bold;" fill="#000" stroke="#000" stroke-width="0.35" >8</text>
<text x="137.00" y="341.00" font-size="8.1" text-anchor="middle" style="font-weight:bold;" fill="#000" stroke="#000" stroke-width="0.35" >12</text>
<text x="154.60" y="341.00" font-size="8.1" text-anchor="middle" style="font-weight:bold;" fill="#000" stroke="#000" stroke-width="0.35" >12</text>
<text x="169.80" y="341.00" font-size="8.1" text-anchor="middle" style="font-weight:bold;" fill="#000" stroke="#000" stroke-width="0.35" >16</text>
<text x="187.30" y="341.00" font-size="8.1" text-anchor="middle" style="font-weight:bold;" fill="#000" stroke="#000" stroke-width="0.35" >20</text>
<text x="202.90" y="341.00" font-size="8.1" text-anchor="middle" style="font-weight:bold;" fill="#000" stroke="#000" stroke-width="0.35"  textLength="15.60" lengthAdjust="spacingAndGlyphs">24/0</text>
<text x="220.00" y="341.00" font-size="8.1" text-anchor="middle" style="font-weight:bold;" fill="#000" stroke="#000" stroke-width="0.35" >4</text>
<text x="234.40" y="341.00" font-size="8.1" text-anchor="middle" style="font-weight:bold;" fill="#000" stroke="#000" stroke-width="0.35" >8</text>
<text x="251.00" y="341.00" font-size="8.1" text-anchor="middle" style="font-weight:bold;" fill="#000" stroke="#000" stroke-width="0.35" >12</text>
<rect x="36.00" y="343.30" width="55.20" height="6.80" fill="#000" stroke="#000" stroke-width="0.6" />
<rect x="91.20" y="343.80" width="52.30" height="5.80" fill="#fff" stroke="#000" stroke-width="1.1" />
<rect x="147.60" y="343.30" width="56.20" height="6.80" fill="#000" stroke="#000" stroke-width="0.6" />
<rect x="203.80" y="343.80" width="55.80" height="5.80" fill="#fff" stroke="#000" stroke-width="1.1" />
<rect x="35.20" y="354.40" width="224.40" height="35.20" fill="#f1f1f1" stroke="none" stroke-width="0" />
<rect x="38.15" y="361.00" width="12.10" height="3.40" rx="1.36" fill="#000" fill-opacity="0.12" filter="url(#b2)"/>
<rect x="38.15" y="362.25" width="12.10" height="7.90" rx="2.60" fill="#000" fill-opacity="0.97" filter="url(#b1)"/>
<rect x="53.15" y="361.00" width="12.50" height="3.40" rx="1.36" fill="#000" fill-opacity="0.11" filter="url(#b2)"/>
<rect x="53.15" y="362.75" width="12.50" height="6.90" rx="2.60" fill="#000" fill-opacity="0.90" filter="url(#b1)"/>
<rect x="68.15" y="362.80" width="13.00" height="3.40" rx="1.36" fill="#000" fill-opacity="0.12" filter="url(#b2)"/>
<rect x="68.15" y="361.55" width="13.00" height="12.90" rx="4.00" fill="#000" fill-opacity="0.55" filter="url(#b2)"/>
<rect x="68.95" y="364.35" width="11.40" height="8.90" rx="3.50" fill="#000" fill-opacity="1.00" filter="url(#b1)"/>
<rect x="83.65" y="369.80" width="13.60" height="3.40" rx="1.36" fill="#000" fill-opacity="0.12" filter="url(#b2)"/>
<rect x="83.65" y="366.30" width="13.60" height="17.40" rx="4.00" fill="#000" fill-opacity="0.55" filter="url(#b2)"/>
<rect x="84.45" y="369.10" width="12.00" height="13.40" rx="3.50" fill="#000" fill-opacity="1.00" filter="url(#b1)"/>
<rect x="99.35" y="362.80" width="14.10" height="3.40" rx="1.36" fill="#000" fill-opacity="0.12" filter="url(#b2)"/>
<rect x="99.35" y="361.05" width="14.10" height="13.90" rx="4.00" fill="#000" fill-opacity="0.55" filter="url(#b2)"/>
<rect x="100.15" y="363.85" width="12.50" height="9.90" rx="3.50" fill="#000" fill-opacity="1.00" filter="url(#b1)"/>
<rect x="115.55" y="360.80" width="12.50" height="3.40" rx="1.36" fill="#000" fill-opacity="0.11" filter="url(#b2)"/>
<rect x="115.55" y="362.30" width="12.50" height="7.40" rx="2.60" fill="#000" fill-opacity="0.95" filter="url(#b1)"/>
<rect x="131.65" y="361.00" width="12.40" height="3.40" rx="1.36" fill="#000" fill-opacity="0.09" filter="url(#b2)"/>
<rect x="131.65" y="363.25" width="12.40" height="5.90" rx="2.36" fill="#000" fill-opacity="0.72" filter="url(#b1)"/>
<rect x="147.55" y="360.20" width="13.50" height="3.40" rx="1.36" fill="#000" fill-opacity="0.12" filter="url(#b2)"/>
<rect x="147.55" y="360.45" width="13.50" height="9.90" rx="2.60" fill="#000" fill-opacity="1.00" filter="url(#b1)"/>
<rect x="164.35" y="361.00" width="12.00" height="3.40" rx="1.36" fill="#000" fill-opacity="0.04" filter="url(#b2)"/>
<rect x="164.35" y="364.00" width="12.00" height="4.40" rx="1.76" fill="#000" fill-opacity="0.35" filter="url(#b1)"/>
<rect x="180.55" y="361.00" width="12.40" height="3.40" rx="1.36" fill="#000" fill-opacity="0.08" filter="url(#b2)"/>
<rect x="180.55" y="363.25" width="12.40" height="5.90" rx="2.36" fill="#000" fill-opacity="0.65" filter="url(#b1)"/>
<rect x="196.65" y="360.00" width="12.40" height="3.40" rx="1.36" fill="#000" fill-opacity="0.11" filter="url(#b2)"/>
<rect x="196.65" y="361.25" width="12.40" height="7.90" rx="2.60" fill="#000" fill-opacity="0.92" filter="url(#b1)"/>
<rect x="212.85" y="360.00" width="11.20" height="3.40" rx="1.36" fill="#000" fill-opacity="0.11" filter="url(#b2)"/>
<rect x="212.85" y="361.25" width="11.20" height="7.90" rx="2.60" fill="#000" fill-opacity="0.95" filter="url(#b1)"/>
<rect x="228.95" y="361.00" width="10.10" height="3.40" rx="1.36" fill="#000" fill-opacity="0.02" filter="url(#b2)"/>
<rect x="228.95" y="364.25" width="10.10" height="3.90" rx="1.56" fill="#000" fill-opacity="0.15" filter="url(#b1)"/>
<rect x="245.15" y="361.00" width="11.20" height="3.40" rx="1.36" fill="#000" fill-opacity="0.08" filter="url(#b2)"/>
<rect x="245.15" y="363.25" width="11.20" height="5.90" rx="2.36" fill="#000" fill-opacity="0.68" filter="url(#b1)"/>
<rect x="84.85" y="379.30" width="11.30" height="8.40" rx="2.60" fill="#000" fill-opacity="0.45" filter="url(#b2)"/>
<rect x="38.15" y="376.05" width="12.10" height="2.90" rx="1.16" fill="#000" fill-opacity="0.18" filter="url(#b2)"/>
<rect x="53.15" y="376.05" width="12.50" height="2.90" rx="1.16" fill="#000" fill-opacity="0.10" filter="url(#b2)"/>
<rect x="115.55" y="376.05" width="12.50" height="2.90" rx="1.16" fill="#000" fill-opacity="0.10" filter="url(#b2)"/>
<rect x="131.65" y="376.05" width="12.40" height="2.90" rx="1.16" fill="#000" fill-opacity="0.08" filter="url(#b2)"/>
<rect x="147.55" y="376.05" width="13.50" height="2.90" rx="1.16" fill="#000" fill-opacity="0.20" filter="url(#b2)"/>
<rect x="196.65" y="376.05" width="12.40" height="2.90" rx="1.16" fill="#000" fill-opacity="0.14" filter="url(#b2)"/>
<rect x="212.85" y="376.05" width="11.20" height="2.90" rx="1.16" fill="#000" fill-opacity="0.14" filter="url(#b2)"/>
<rect x="36.45" y="355.65" width="221.90" height="32.70" fill="none" stroke="#fafafa" stroke-width="0.8" />
<rect x="35.20" y="354.40" width="224.40" height="35.20" fill="none" stroke="#1a1a1a" stroke-width="1.5" />
<text x="-0.40" y="370.00" font-size="10.0" text-anchor="start" style="font-weight:bold;" fill="#000" stroke="#000" stroke-width="0.35"  textLength="33.00" lengthAdjust="spacingAndGlyphs">PPAR<tspan font-family="Liberation Serif" font-weight="normal" font-size="11">&#945;</tspan></text>
<rect x="34.40" y="393.80" width="225.00" height="27.60" fill="#f1f1f1" stroke="none" stroke-width="0" />
<rect x="37.15" y="399.50" width="11.40" height="4.00" rx="1.60" fill="#000" fill-opacity="0.80" filter="url(#b1)"/>
<rect x="37.15" y="410.00" width="11.40" height="4.00" rx="1.60" fill="#000" fill-opacity="0.97" filter="url(#b1)"/>
<rect x="37.15" y="404.10" width="11.40" height="5.40" rx="2.16" fill="#000" fill-opacity="0.18" filter="url(#b1)"/>
<rect x="53.65" y="400.30" width="11.00" height="3.80" rx="1.52" fill="#000" fill-opacity="0.50" filter="url(#b1)"/>
<rect x="53.65" y="410.10" width="11.00" height="3.80" rx="1.52" fill="#000" fill-opacity="0.38" filter="url(#b1)"/>
<rect x="53.65" y="404.80" width="11.00" height="4.40" rx="1.76" fill="#000" fill-opacity="0.15" filter="url(#b1)"/>
<rect x="69.85" y="401.00" width="10.30" height="4.00" rx="1.60" fill="#000" fill-opacity="0.60" filter="url(#b1)"/>
<rect x="69.85" y="406.50" width="10.30" height="3.00" rx="1.20" fill="#000" fill-opacity="0.32" filter="url(#b1)"/>
<rect x="69.85" y="412.00" width="10.30" height="4.00" rx="1.60" fill="#000" fill-opacity="0.72" filter="url(#b1)"/>
<rect x="85.85" y="401.70" width="9.60" height="3.60" rx="1.44" fill="#000" fill-opacity="0.30" filter="url(#b1)"/>
<rect x="85.85" y="407.30" width="9.60" height="3.40" rx="1.36" fill="#000" fill-opacity="0.10" filter="url(#b1)"/>
<rect x="85.85" y="412.60" width="9.60" height="4.00" rx="1.60" fill="#000" fill-opacity="0.88" filter="url(#b1)"/>
<rect x="100.55" y="401.70" width="11.60" height="4.20" rx="1.68" fill="#000" fill-opacity="0.85" filter="url(#b1)"/>
<rect x="100.55" y="408.40" width="11.60" height="3.20" rx="1.28" fill="#000" fill-opacity="0.50" filter="url(#b1)"/>
<rect x="100.55" y="413.00" width="11.60" height="4.00" rx="1.60" fill="#000" fill-opacity="1.00" filter="url(#b1)"/>
<rect x="116.35" y="402.00" width="10.80" height="4.00" rx="1.60" fill="#000" fill-opacity="0.55" filter="url(#b1)"/>
<rect x="116.35" y="408.20" width="10.80" height="3.20" rx="1.28" fill="#000" fill-opacity="0.45" filter="url(#b1)"/>
<rect x="116.35" y="413.00" width="10.80" height="4.00" rx="1.60" fill="#000" fill-opacity="0.82" filter="url(#b1)"/>
<rect x="131.35" y="402.20" width="11.20" height="3.60" rx="1.44" fill="#000" fill-opacity="0.32" filter="url(#b1)"/>
<rect x="131.35" y="407.70" width="11.20" height="3.20" rx="1.28" fill="#000" fill-opacity="0.25" filter="url(#b1)"/>
<rect x="131.35" y="412.00" width="11.20" height="4.00" rx="1.60" fill="#000" fill-opacity="0.55" filter="url(#b1)"/>
<rect x="148.65" y="402.30" width="11.10" height="4.00" rx="1.60" fill="#000" fill-opacity="1.00" filter="url(#b1)"/>
<rect x="164.85" y="401.50" width="10.30" height="3.00" rx="1.20" fill="#000" fill-opacity="0.10" filter="url(#b1)"/>
<rect x="164.85" y="411.50" width="10.30" height="3.00" rx="1.20" fill="#000" fill-opacity="0.14" filter="url(#b1)"/>
<rect x="180.25" y="402.10" width="9.50" height="3.40" rx="1.36" fill="#000" fill-opacity="0.20" filter="url(#b1)"/>
<rect x="180.25" y="411.60" width="9.50" height="3.80" rx="1.52" fill="#000" fill-opacity="0.40" filter="url(#b1)"/>
<rect x="195.25" y="402.00" width="9.50" height="3.60" rx="1.44" fill="#000" fill-opacity="0.38" filter="url(#b1)"/>
<rect x="195.25" y="411.50" width="9.50" height="4.00" rx="1.60" fill="#000" fill-opacity="0.62" filter="url(#b1)"/>
<rect x="209.05" y="401.20" width="11.90" height="4.00" rx="1.60" fill="#000" fill-opacity="0.92" filter="url(#b1)"/>
<rect x="228.85" y="411.50" width="9.30" height="3.00" rx="1.20" fill="#000" fill-opacity="0.12" filter="url(#b1)"/>
<rect x="242.55" y="399.20" width="10.70" height="3.80" rx="1.52" fill="#000" fill-opacity="0.55" filter="url(#b1)"/>
<rect x="35.65" y="395.05" width="222.50" height="25.10" fill="none" stroke="#fafafa" stroke-width="0.8" />
<rect x="34.40" y="393.80" width="225.00" height="27.60" fill="none" stroke="#1a1a1a" stroke-width="1.5" />
<text x="5.30" y="410.00" font-size="10.0" text-anchor="start" style="font-weight:bold;" fill="#000" stroke="#000" stroke-width="0.35"  textLength="27.30" lengthAdjust="spacingAndGlyphs">LXR<tspan font-family="Liberation Serif" font-weight="normal" font-size="11">&#945;</tspan></text>
<rect x="32.60" y="426.60" width="228.20" height="20.00" fill="#f1f1f1" stroke="none" stroke-width="0" />
<rect x="36.90" y="435.10" width="14.20" height="5.00" rx="2.40" fill="#000" fill-opacity="1.00" filter="url(#b1)"/>
<rect x="52.50" y="435.10" width="14.20" height="5.00" rx="2.40" fill="#000" fill-opacity="1.00" filter="url(#b1)"/>
<rect x="67.90" y="435.10" width="14.20" height="5.00" rx="2.40" fill="#000" fill-opacity="1.00" filter="url(#b1)"/>
<rect x="83.50" y="435.10" width="14.20" height="5.00" rx="2.40" fill="#000" fill-opacity="1.00" filter="url(#b1)"/>
<rect x="99.20" y="435.10" width="14.20" height="5.00" rx="2.40" fill="#000" fill-opacity="1.00" filter="url(#b1)"/>
<rect x="114.80" y="435.10" width="14.20" height="5.00" rx="2.40" fill="#000" fill-opacity="1.00" filter="url(#b1)"/>
<rect x="130.50" y="435.10" width="14.20" height="5.00" rx="2.40" fill="#000" fill-opacity="1.00" filter="url(#b1)"/>
<rect x="147.10" y="435.10" width="14.20" height="5.00" rx="2.40" fill="#000" fill-opacity="1.00" filter="url(#b1)"/>
<rect x="162.90" y="435.10" width="14.20" height="5.00" rx="2.40" fill="#000" fill-opacity="1.00" filter="url(#b1)"/>
<rect x="179.40" y="435.10" width="14.20" height="5.00" rx="2.40" fill="#000" fill-opacity="1.00" filter="url(#b1)"/>
<rect x="195.50" y="435.10" width="14.20" height="5.00" rx="2.40" fill="#000" fill-opacity="1.00" filter="url(#b1)"/>
<rect x="211.50" y="435.10" width="14.20" height="5.00" rx="2.40" fill="#000" fill-opacity="1.00" filter="url(#b1)"/>
<rect x="227.30" y="435.10" width="14.20" height="5.00" rx="2.40" fill="#000" fill-opacity="1.00" filter="url(#b1)"/>
<rect x="243.50" y="435.10" width="14.20" height="5.00" rx="2.40" fill="#000" fill-opacity="1.00" filter="url(#b1)"/>
<rect x="33.85" y="427.85" width="225.70" height="17.50" fill="none" stroke="#fafafa" stroke-width="0.8" />
<rect x="32.60" y="426.60" width="228.20" height="20.00" fill="none" stroke="#1a1a1a" stroke-width="1.5" />
<text x="5.30" y="441.00" font-size="10.0" text-anchor="start" style="font-weight:bold;" fill="#000" stroke="#000" stroke-width="0.35"  textLength="25.30" lengthAdjust="spacingAndGlyphs">Actin</text>
<text x="358.60" y="336.00" font-size="7.8" text-anchor="start" style="font-weight:bold;" fill="#000" stroke="#000" stroke-width="0.35" >CT</text>
<text x="386.60" y="336.00" font-size="7.8" text-anchor="middle" style="font-weight:bold;" fill="#000" stroke="#000" stroke-width="0.35" >12</text>
<text x="408.40" y="336.00" font-size="7.8" text-anchor="middle" style="font-weight:bold;" fill="#000" stroke="#000" stroke-width="0.35" >16</text>
<text x="428.40" y="336.00" font-size="7.8" text-anchor="middle" style="font-weight:bold;" fill="#000" stroke="#000" stroke-width="0.35" >20</text>
<text x="445.80" y="336.00" font-size="7.8" text-anchor="middle" style="font-weight:bold;" fill="#000" stroke="#000" stroke-width="0.35" >24/0</text>
<text x="463.50" y="336.00" font-size="7.8" text-anchor="middle" style="font-weight:bold;" fill="#000" stroke="#000" stroke-width="0.35" >4</text>
<text x="481.60" y="336.00" font-size="7.8" text-anchor="middle" style="font-weight:bold;" fill="#000" stroke="#000" stroke-width="0.35" >8</text>
<text x="503.90" y="336.00" font-size="7.8" text-anchor="middle" style="font-weight:bold;" fill="#000" stroke="#000" stroke-width="0.35" >12</text>
<rect x="373.30" y="338.40" width="74.60" height="6.40" fill="#000" stroke="#000" stroke-width="0.6" />
<rect x="447.90" y="338.90" width="71.20" height="5.40" fill="#fff" stroke="#000" stroke-width="1.1" />
<rect x="373.00" y="349.70" width="145.80" height="28.70" fill="#f1f1f1" stroke="none" stroke-width="0" />
<rect x="378.40" y="363.10" width="15.20" height="3.40" rx="1.68" fill="#000" fill-opacity="0.04" filter="url(#b3)"/>
<ellipse cx="382.32" cy="364.80" rx="3.36" ry="1.44" fill="#000" fill-opacity="0.02" filter="url(#b3)"/>
<ellipse cx="389.68" cy="364.80" rx="3.36" ry="1.44" fill="#000" fill-opacity="0.02" filter="url(#b3)"/>
<rect x="400.40" y="363.10" width="14.20" height="3.40" rx="1.68" fill="#000" fill-opacity="0.06" filter="url(#b3)"/>
<ellipse cx="404.05" cy="364.80" rx="3.15" ry="1.44" fill="#000" fill-opacity="0.02" filter="url(#b3)"/>
<ellipse cx="410.95" cy="364.80" rx="3.15" ry="1.44" fill="#000" fill-opacity="0.02" filter="url(#b3)"/>
<rect x="422.00" y="362.60" width="9.60" height="4.40" rx="2.10" fill="#000" fill-opacity="0.13" filter="url(#b3)"/>
<ellipse cx="424.41" cy="364.80" rx="2.18" ry="1.80" fill="#000" fill-opacity="0.05" filter="url(#b3)"/>
<ellipse cx="429.19" cy="364.80" rx="2.18" ry="1.80" fill="#000" fill-opacity="0.05" filter="url(#b3)"/>
<rect x="436.90" y="359.85" width="16.20" height="9.90" rx="4.41" fill="#000" fill-opacity="0.79" filter="url(#b3)"/>
<ellipse cx="441.09" cy="364.80" rx="3.57" ry="3.78" fill="#000" fill-opacity="0.32" filter="url(#b3)"/>
<ellipse cx="448.91" cy="364.80" rx="3.57" ry="3.78" fill="#000" fill-opacity="0.32" filter="url(#b3)"/>
<rect x="455.50" y="358.55" width="20.00" height="11.90" rx="5.25" fill="#000" fill-opacity="0.88" filter="url(#b3)"/>
<ellipse cx="460.72" cy="364.50" rx="4.37" ry="4.50" fill="#000" fill-opacity="0.35" filter="url(#b3)"/>
<ellipse cx="470.28" cy="364.50" rx="4.37" ry="4.50" fill="#000" fill-opacity="0.35" filter="url(#b3)"/>
<rect x="478.30" y="360.60" width="15.10" height="8.40" rx="3.78" fill="#000" fill-opacity="0.70" filter="url(#b3)"/>
<ellipse cx="482.19" cy="364.80" rx="3.34" ry="3.24" fill="#000" fill-opacity="0.28" filter="url(#b3)"/>
<ellipse cx="489.51" cy="364.80" rx="3.34" ry="3.24" fill="#000" fill-opacity="0.28" filter="url(#b3)"/>
<rect x="497.60" y="361.60" width="13.40" height="6.40" rx="2.94" fill="#000" fill-opacity="0.33" filter="url(#b3)"/>
<ellipse cx="501.03" cy="364.80" rx="2.98" ry="2.52" fill="#000" fill-opacity="0.13" filter="url(#b3)"/>
<ellipse cx="507.57" cy="364.80" rx="2.98" ry="2.52" fill="#000" fill-opacity="0.13" filter="url(#b3)"/>
<rect x="374.25" y="350.95" width="143.30" height="26.20" fill="none" stroke="#fafafa" stroke-width="0.8" />
<rect x="373.00" y="349.70" width="145.80" height="28.70" fill="none" stroke="#1a1a1a" stroke-width="1.5" />
<rect x="372.80" y="382.60" width="145.20" height="27.60" fill="#f1f1f1" stroke="none" stroke-width="0" />
<rect x="379.50" y="396.00" width="14.90" height="5.40" rx="2.52" fill="#000" fill-opacity="0.31" filter="url(#b3)"/>
<ellipse cx="383.34" cy="398.70" rx="3.30" ry="2.16" fill="#000" fill-opacity="0.12" filter="url(#b3)"/>
<ellipse cx="390.56" cy="398.70" rx="3.30" ry="2.16" fill="#000" fill-opacity="0.12" filter="url(#b3)"/>
<rect x="380.50" y="386.70" width="12.90" height="4.40" rx="2.10" fill="#000" fill-opacity="0.04" filter="url(#b3)"/>
<ellipse cx="383.80" cy="388.90" rx="2.88" ry="1.80" fill="#000" fill-opacity="0.02" filter="url(#b3)"/>
<ellipse cx="390.10" cy="388.90" rx="2.88" ry="1.80" fill="#000" fill-opacity="0.02" filter="url(#b3)"/>
<rect x="399.00" y="394.75" width="17.00" height="7.90" rx="3.57" fill="#000" fill-opacity="0.77" filter="url(#b3)"/>
<ellipse cx="403.41" cy="398.70" rx="3.74" ry="3.06" fill="#000" fill-opacity="0.31" filter="url(#b3)"/>
<ellipse cx="411.59" cy="398.70" rx="3.74" ry="3.06" fill="#000" fill-opacity="0.31" filter="url(#b3)"/>
<rect x="400.00" y="386.70" width="15.00" height="4.40" rx="2.10" fill="#000" fill-opacity="0.25" filter="url(#b3)"/>
<ellipse cx="403.87" cy="388.90" rx="3.32" ry="1.80" fill="#000" fill-opacity="0.10" filter="url(#b3)"/>
<ellipse cx="411.13" cy="388.90" rx="3.32" ry="1.80" fill="#000" fill-opacity="0.10" filter="url(#b3)"/>
<rect x="417.20" y="393.75" width="19.00" height="9.90" rx="4.41" fill="#000" fill-opacity="0.88" filter="url(#b3)"/>
<ellipse cx="422.15" cy="398.70" rx="4.16" ry="3.78" fill="#000" fill-opacity="0.35" filter="url(#b3)"/>
<ellipse cx="431.25" cy="398.70" rx="4.16" ry="3.78" fill="#000" fill-opacity="0.35" filter="url(#b3)"/>
<rect x="418.20" y="386.70" width="17.00" height="4.40" rx="2.10" fill="#000" fill-opacity="0.48" filter="url(#b3)"/>
<ellipse cx="422.61" cy="388.90" rx="3.74" ry="1.80" fill="#000" fill-opacity="0.19" filter="url(#b3)"/>
<ellipse cx="430.79" cy="388.90" rx="3.74" ry="1.80" fill="#000" fill-opacity="0.19" filter="url(#b3)"/>
<rect x="436.00" y="393.75" width="19.20" height="9.90" rx="4.41" fill="#000" fill-opacity="0.88" filter="url(#b3)"/>
<ellipse cx="441.00" cy="398.70" rx="4.20" ry="3.78" fill="#000" fill-opacity="0.35" filter="url(#b3)"/>
<ellipse cx="450.20" cy="398.70" rx="4.20" ry="3.78" fill="#000" fill-opacity="0.35" filter="url(#b3)"/>
<rect x="437.00" y="386.70" width="17.20" height="4.40" rx="2.10" fill="#000" fill-opacity="0.44" filter="url(#b3)"/>
<ellipse cx="441.46" cy="388.90" rx="3.78" ry="1.80" fill="#000" fill-opacity="0.17" filter="url(#b3)"/>
<ellipse cx="449.74" cy="388.90" rx="3.78" ry="1.80" fill="#000" fill-opacity="0.17" filter="url(#b3)"/>
<rect x="457.80" y="395.50" width="15.70" height="6.40" rx="2.94" fill="#000" fill-opacity="0.66" filter="url(#b3)"/>
<ellipse cx="461.85" cy="398.70" rx="3.46" ry="2.52" fill="#000" fill-opacity="0.26" filter="url(#b3)"/>
<ellipse cx="469.44" cy="398.70" rx="3.46" ry="2.52" fill="#000" fill-opacity="0.26" filter="url(#b3)"/>
<rect x="458.80" y="386.70" width="13.70" height="4.40" rx="2.10" fill="#000" fill-opacity="0.13" filter="url(#b3)"/>
<ellipse cx="462.31" cy="388.90" rx="3.04" ry="1.80" fill="#000" fill-opacity="0.05" filter="url(#b3)"/>
<ellipse cx="468.98" cy="388.90" rx="3.04" ry="1.80" fill="#000" fill-opacity="0.05" filter="url(#b3)"/>
<rect x="477.70" y="396.00" width="12.00" height="5.40" rx="2.52" fill="#000" fill-opacity="0.35" filter="url(#b3)"/>
<ellipse cx="480.76" cy="398.70" rx="2.69" ry="2.16" fill="#000" fill-opacity="0.14" filter="url(#b3)"/>
<ellipse cx="486.64" cy="398.70" rx="2.69" ry="2.16" fill="#000" fill-opacity="0.14" filter="url(#b3)"/>
<rect x="478.70" y="386.70" width="10.00" height="4.40" rx="2.10" fill="#000" fill-opacity="0.09" filter="url(#b3)"/>
<ellipse cx="481.22" cy="388.90" rx="2.27" ry="1.80" fill="#000" fill-opacity="0.03" filter="url(#b3)"/>
<ellipse cx="486.18" cy="388.90" rx="2.27" ry="1.80" fill="#000" fill-opacity="0.03" filter="url(#b3)"/>
<rect x="497.60" y="396.00" width="13.40" height="5.40" rx="2.52" fill="#000" fill-opacity="0.28" filter="url(#b3)"/>
<ellipse cx="501.03" cy="398.70" rx="2.98" ry="2.16" fill="#000" fill-opacity="0.11" filter="url(#b3)"/>
<ellipse cx="507.57" cy="398.70" rx="2.98" ry="2.16" fill="#000" fill-opacity="0.11" filter="url(#b3)"/>
<rect x="498.60" y="386.70" width="11.40" height="4.40" rx="2.10" fill="#000" fill-opacity="0.07" filter="url(#b3)"/>
<ellipse cx="501.49" cy="388.90" rx="2.56" ry="1.80" fill="#000" fill-opacity="0.03" filter="url(#b3)"/>
<ellipse cx="507.11" cy="388.90" rx="2.56" ry="1.80" fill="#000" fill-opacity="0.03" filter="url(#b3)"/>
<rect x="374.05" y="383.85" width="142.70" height="25.10" fill="none" stroke="#fafafa" stroke-width="0.8" />
<rect x="372.80" y="382.60" width="145.20" height="27.60" fill="none" stroke="#1a1a1a" stroke-width="1.5" />
<rect x="372.80" y="414.80" width="145.20" height="27.40" fill="#f1f1f1" stroke="none" stroke-width="0" />
<rect x="375.80" y="426.15" width="18.60" height="6.90" rx="3.15" fill="#000" fill-opacity="0.88" filter="url(#b3)"/>
<ellipse cx="380.64" cy="429.60" rx="4.07" ry="2.70" fill="#000" fill-opacity="0.35" filter="url(#b3)"/>
<ellipse cx="389.56" cy="429.60" rx="4.07" ry="2.70" fill="#000" fill-opacity="0.35" filter="url(#b3)"/>
<rect x="397.60" y="426.40" width="17.70" height="6.40" rx="2.94" fill="#000" fill-opacity="0.84" filter="url(#b3)"/>
<ellipse cx="402.19" cy="429.60" rx="3.88" ry="2.52" fill="#000" fill-opacity="0.33" filter="url(#b3)"/>
<ellipse cx="410.70" cy="429.60" rx="3.88" ry="2.52" fill="#000" fill-opacity="0.33" filter="url(#b3)"/>
<rect x="419.10" y="426.65" width="11.70" height="5.90" rx="2.73" fill="#000" fill-opacity="0.84" filter="url(#b3)"/>
<ellipse cx="422.07" cy="429.60" rx="2.62" ry="2.34" fill="#000" fill-opacity="0.33" filter="url(#b3)"/>
<ellipse cx="427.82" cy="429.60" rx="2.62" ry="2.34" fill="#000" fill-opacity="0.33" filter="url(#b3)"/>
<rect x="436.40" y="426.40" width="17.60" height="6.40" rx="2.94" fill="#000" fill-opacity="0.85" filter="url(#b3)"/>
<ellipse cx="440.97" cy="429.60" rx="3.86" ry="2.52" fill="#000" fill-opacity="0.34" filter="url(#b3)"/>
<ellipse cx="449.43" cy="429.60" rx="3.86" ry="2.52" fill="#000" fill-opacity="0.34" filter="url(#b3)"/>
<rect x="457.80" y="426.40" width="17.10" height="6.40" rx="2.94" fill="#000" fill-opacity="0.85" filter="url(#b3)"/>
<ellipse cx="462.23" cy="429.60" rx="3.76" ry="2.52" fill="#000" fill-opacity="0.34" filter="url(#b3)"/>
<ellipse cx="470.47" cy="429.60" rx="3.76" ry="2.52" fill="#000" fill-opacity="0.34" filter="url(#b3)"/>
<rect x="476.30" y="426.40" width="18.00" height="6.40" rx="2.94" fill="#000" fill-opacity="0.85" filter="url(#b3)"/>
<ellipse cx="480.98" cy="429.60" rx="3.95" ry="2.52" fill="#000" fill-opacity="0.34" filter="url(#b3)"/>
<ellipse cx="489.62" cy="429.60" rx="3.95" ry="2.52" fill="#000" fill-opacity="0.34" filter="url(#b3)"/>
<rect x="495.90" y="426.15" width="17.70" height="6.90" rx="3.15" fill="#000" fill-opacity="0.88" filter="url(#b3)"/>
<ellipse cx="500.50" cy="429.60" rx="3.88" ry="2.70" fill="#000" fill-opacity="0.35" filter="url(#b3)"/>
<ellipse cx="509.00" cy="429.60" rx="3.88" ry="2.70" fill="#000" fill-opacity="0.35" filter="url(#b3)"/>
<rect x="374.05" y="416.05" width="142.70" height="24.90" fill="none" stroke="#fafafa" stroke-width="0.8" />
<rect x="372.80" y="414.80" width="145.20" height="27.40" fill="none" stroke="#1a1a1a" stroke-width="1.5" />
<rect x="373.80" y="446.80" width="144.80" height="24.00" fill="#f1f1f1" stroke="none" stroke-width="0" />
<rect x="378.80" y="455.80" width="15.60" height="5.40" rx="2.52" fill="#000" fill-opacity="0.70" filter="url(#b3)"/>
<ellipse cx="382.83" cy="458.50" rx="3.44" ry="2.16" fill="#000" fill-opacity="0.28" filter="url(#b3)"/>
<ellipse cx="390.37" cy="458.50" rx="3.44" ry="2.16" fill="#000" fill-opacity="0.28" filter="url(#b3)"/>
<rect x="398.20" y="455.05" width="16.40" height="6.90" rx="3.15" fill="#000" fill-opacity="0.88" filter="url(#b3)"/>
<ellipse cx="402.44" cy="458.50" rx="3.61" ry="2.70" fill="#000" fill-opacity="0.35" filter="url(#b3)"/>
<ellipse cx="410.36" cy="458.50" rx="3.61" ry="2.70" fill="#000" fill-opacity="0.35" filter="url(#b3)"/>
<rect x="419.90" y="455.30" width="16.20" height="6.40" rx="2.94" fill="#000" fill-opacity="0.85" filter="url(#b3)"/>
<ellipse cx="424.09" cy="458.50" rx="3.57" ry="2.52" fill="#000" fill-opacity="0.34" filter="url(#b3)"/>
<ellipse cx="431.91" cy="458.50" rx="3.57" ry="2.52" fill="#000" fill-opacity="0.34" filter="url(#b3)"/>
<rect x="438.40" y="455.05" width="17.10" height="6.90" rx="3.15" fill="#000" fill-opacity="0.88" filter="url(#b3)"/>
<ellipse cx="442.83" cy="458.50" rx="3.76" ry="2.70" fill="#000" fill-opacity="0.35" filter="url(#b3)"/>
<ellipse cx="451.07" cy="458.50" rx="3.76" ry="2.70" fill="#000" fill-opacity="0.35" filter="url(#b3)"/>
<rect x="458.40" y="455.55" width="16.50" height="5.90" rx="2.73" fill="#000" fill-opacity="0.81" filter="url(#b3)"/>
<ellipse cx="462.67" cy="458.50" rx="3.63" ry="2.34" fill="#000" fill-opacity="0.32" filter="url(#b3)"/>
<ellipse cx="470.63" cy="458.50" rx="3.63" ry="2.34" fill="#000" fill-opacity="0.32" filter="url(#b3)"/>
<rect x="478.10" y="455.30" width="15.30" height="6.40" rx="2.94" fill="#000" fill-opacity="0.84" filter="url(#b3)"/>
<ellipse cx="482.05" cy="458.50" rx="3.38" ry="2.52" fill="#000" fill-opacity="0.33" filter="url(#b3)"/>
<ellipse cx="489.45" cy="458.50" rx="3.38" ry="2.52" fill="#000" fill-opacity="0.33" filter="url(#b3)"/>
<rect x="496.50" y="456.05" width="16.50" height="4.90" rx="2.31" fill="#000" fill-opacity="0.57" filter="url(#b3)"/>
<ellipse cx="500.77" cy="458.50" rx="3.63" ry="1.98" fill="#000" fill-opacity="0.23" filter="url(#b3)"/>
<ellipse cx="508.73" cy="458.50" rx="3.63" ry="1.98" fill="#000" fill-opacity="0.23" filter="url(#b3)"/>
<rect x="375.05" y="448.05" width="142.30" height="21.50" fill="none" stroke="#fafafa" stroke-width="0.8" />
<rect x="373.80" y="446.80" width="144.80" height="24.00" fill="none" stroke="#1a1a1a" stroke-width="1.5" />
<text x="319.50" y="362.00" font-size="10.2" text-anchor="start" style="font-weight:bold;" fill="#000" stroke="#000" stroke-width="0.35"  textLength="49.60" lengthAdjust="spacingAndGlyphs">IP: CREBH</text>
<text x="319.50" y="373.00" font-size="10.2" text-anchor="start" style="font-weight:bold;" fill="#000" stroke="#000" stroke-width="0.35"  textLength="47.60" lengthAdjust="spacingAndGlyphs">IB: PPAR<tspan font-family="Liberation Serif" font-weight="normal" font-size="11">&#945;</tspan></text>
<text x="319.50" y="397.00" font-size="10.2" text-anchor="start" style="font-weight:bold;" fill="#000" stroke="#000" stroke-width="0.35"  textLength="49.60" lengthAdjust="spacingAndGlyphs">IP: CREBH</text>
<text x="319.50" y="408.00" font-size="10.2" text-anchor="start" style="font-weight:bold;" fill="#000" stroke="#000" stroke-width="0.35"  textLength="41.50" lengthAdjust="spacingAndGlyphs">IB: LXR<tspan font-family="Liberation Serif" font-weight="normal" font-size="11">&#945;</tspan></text>
<text x="319.50" y="429.00" font-size="10.2" text-anchor="start" style="font-weight:bold;" fill="#000" stroke="#000" stroke-width="0.35"  textLength="49.60" lengthAdjust="spacingAndGlyphs">IP: CREBH</text>
<text x="319.50" y="441.00" font-size="10.2" text-anchor="start" style="font-weight:bold;" fill="#000" stroke="#000" stroke-width="0.35"  textLength="49.60" lengthAdjust="spacingAndGlyphs">IB: CREBH</text>
<text x="304.20" y="462.00" font-size="10.2" text-anchor="start" style="font-weight:bold;" fill="#000" stroke="#000" stroke-width="0.35"  textLength="64.90" lengthAdjust="spacingAndGlyphs">WB: Lamin B1</text>
</svg>
</body></html>
